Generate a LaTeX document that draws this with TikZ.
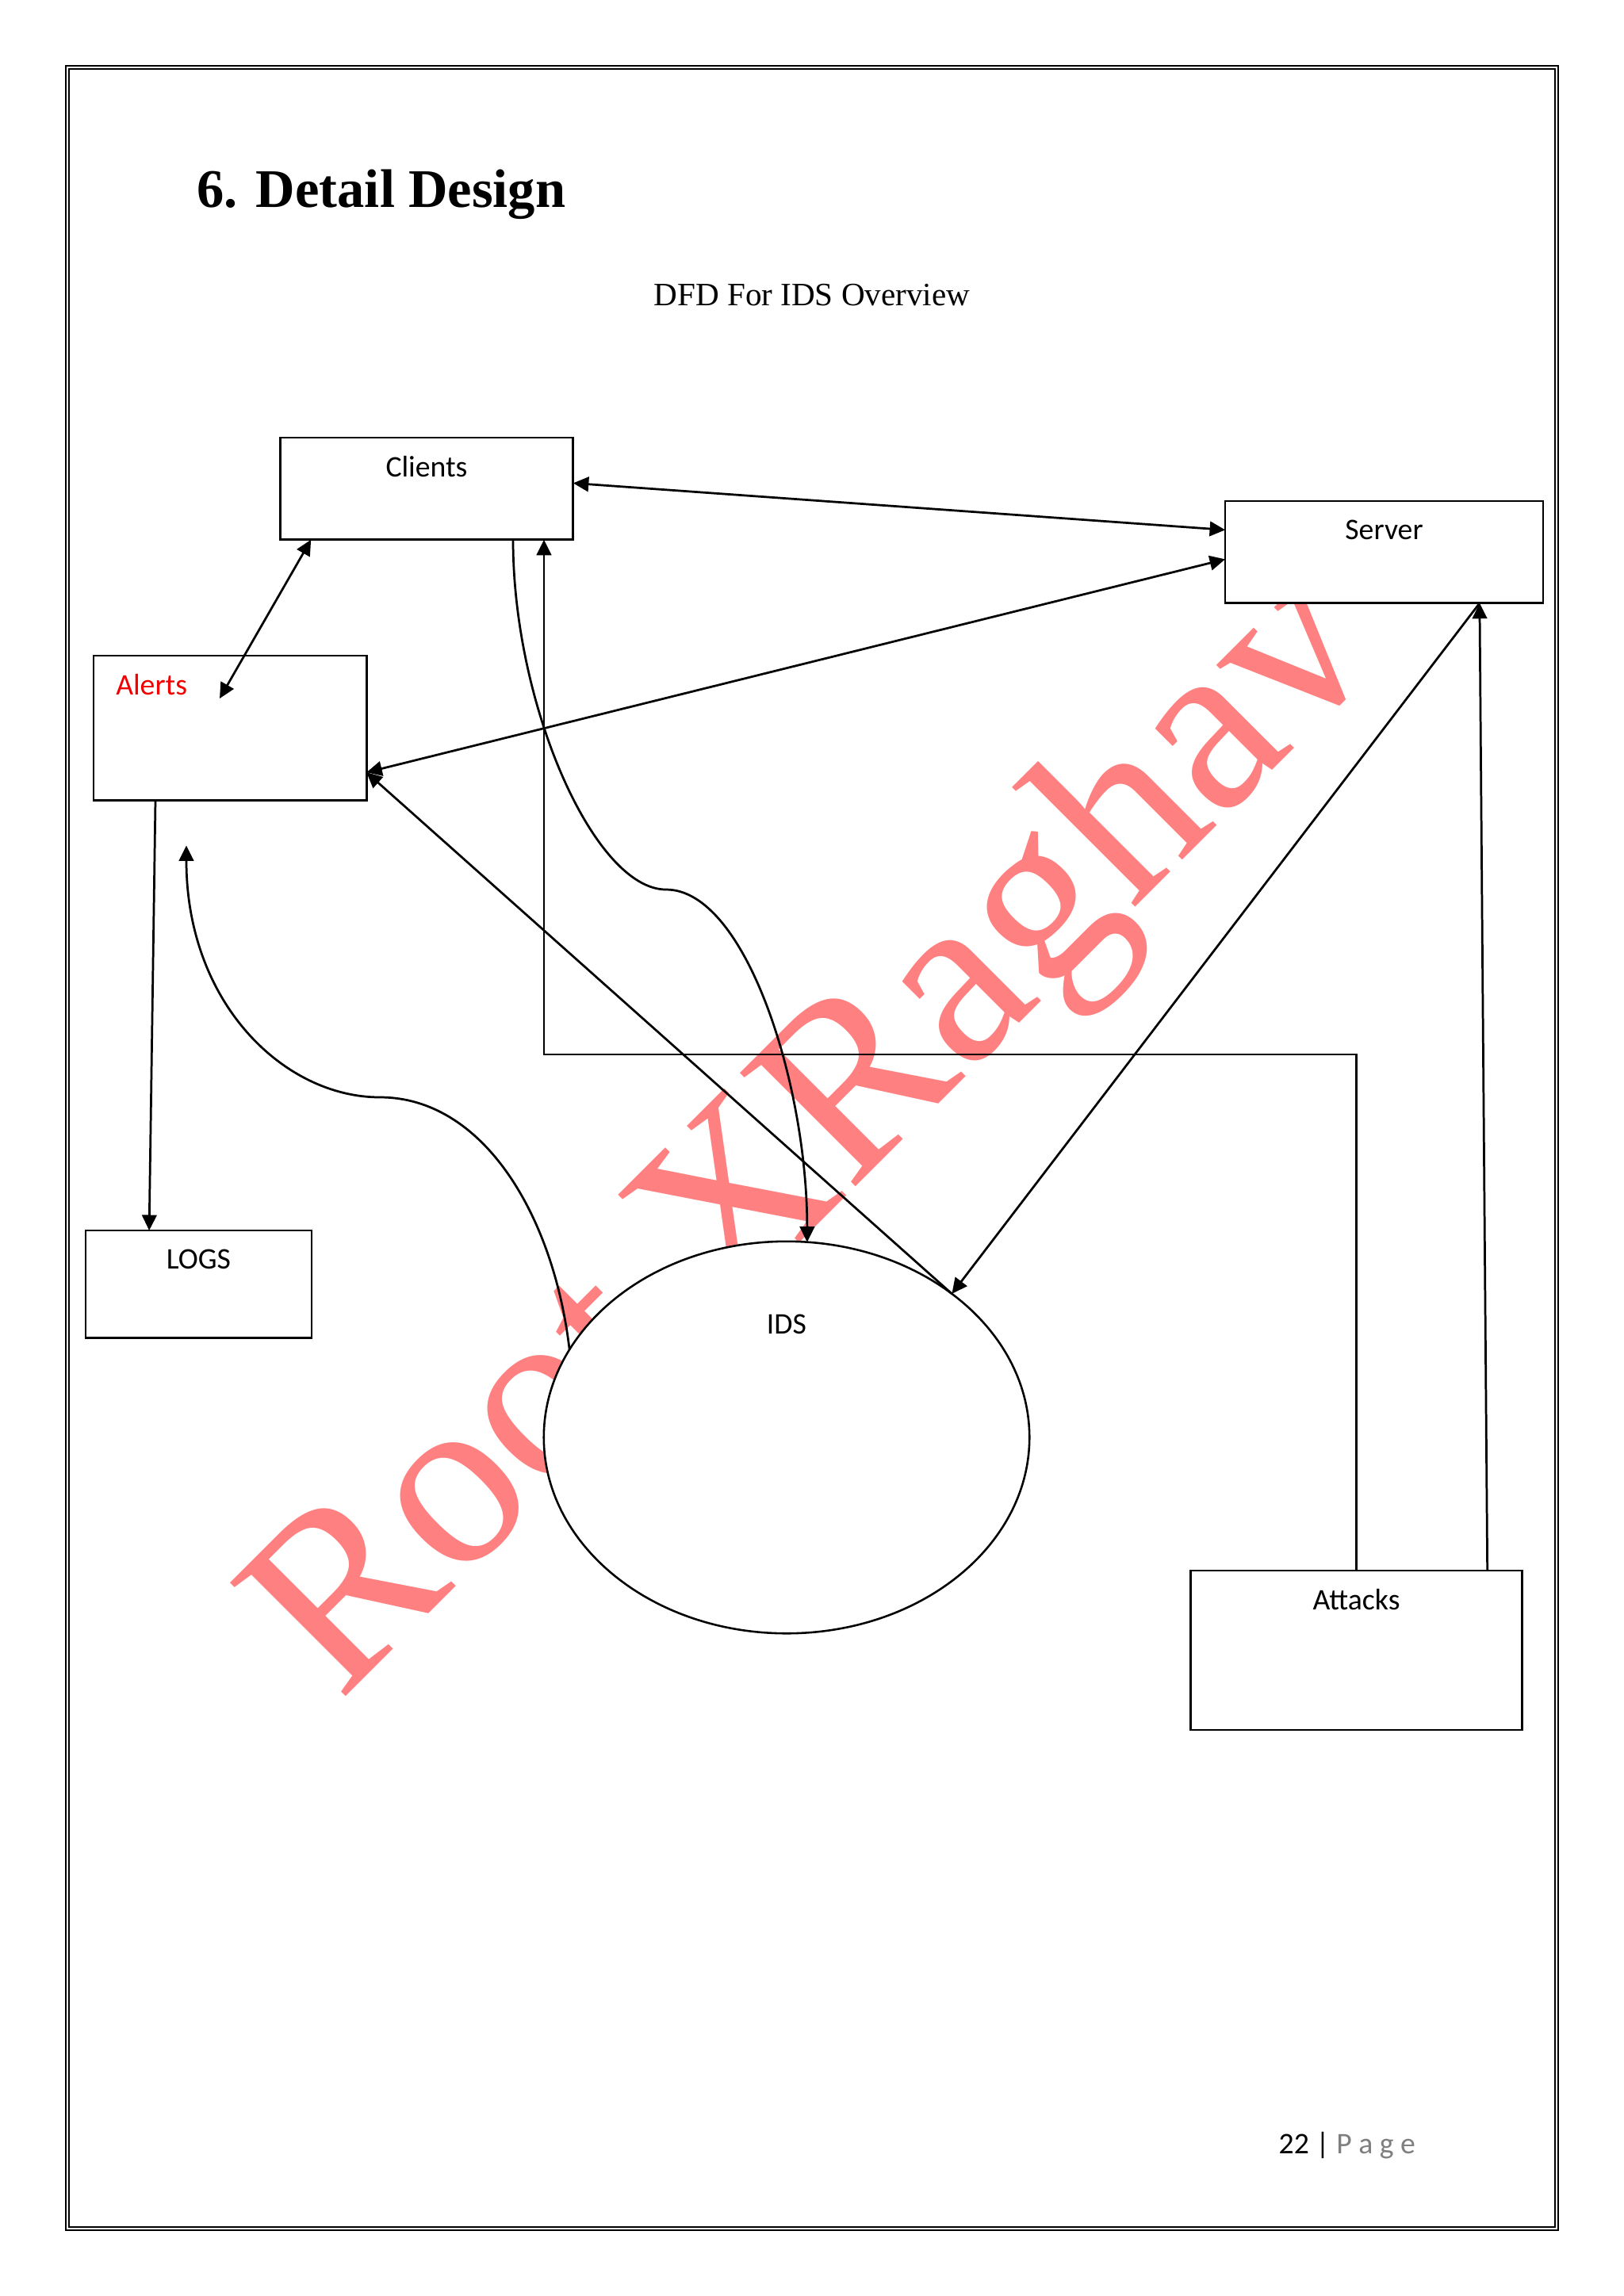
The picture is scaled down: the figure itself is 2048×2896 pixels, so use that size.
\documentclass[tikz,border=0pt]{standalone}
\usepackage{fontspec}
\setmainfont{Liberation Serif}
\newfontfamily\calibri{Carlito}
\usetikzlibrary{arrows.meta,shapes.geometric,calc}

\definecolor{stamp}{RGB}{255,128,128}
\definecolor{alertred}{RGB}{240,0,0}
\definecolor{pagegray}{RGB}{127,127,127}

\tikzset{
  box/.style={draw, fill=white, line width=0.8pt, inner sep=0pt, outer sep=0pt,
    font=\calibri\fontsize{11}{13}\selectfont},
  lbl/.style={font=\calibri\fontsize{11}{13}\selectfont, inner sep=0pt},
  link/.style={line width=0.8pt, -{Triangle[length=2mm,width=1.9mm]}},
  dlink/.style={line width=0.8pt, {Triangle[length=2mm,width=1.9mm]}-{Triangle[length=2mm,width=1.9mm]}},
}

\begin{document}
\begin{tikzpicture}[x=0.01025cm, y=-0.01025cm]
  %\draw[lightgray] (0,0) grid[step=100] (2048,2896);
  \path[use as bounding box, fill=white] (0,0) rectangle (2048,2896);
  \draw[double, line width=0.55pt, double distance=0.2mm] (85,85) rectangle (1963,2811);

  \node[anchor=base west, inner sep=0pt, font=\bfseries\fontsize{20}{24}\selectfont] (title) at (248,261) {6. Detail Design};
  \node[anchor=base, inner sep=0pt, font=\fontsize{12}{14}\selectfont] (subtitle) at (1024,385) {DFD For IDS Overview};

  % watermark
  \node[anchor=base west, rotate=45, inner sep=0pt, text=stamp, font=\fontsize{91}{96}\selectfont] (stamp) at (428,2148) {Root XRaghav};

  \node[box, anchor=north, minimum width=3.79cm, text height=0.51cm, text depth=0.81cm] (clients) at (538,552) {Clients};
  \node[box, anchor=north, minimum width=4.11cm, text height=0.50cm, text depth=0.82cm] (server) at (1745.5,632) {Server};
  \node[box, anchor=north west, text width=2.95cm, inner xsep=0.29cm, align=left, text height=0.51cm, text depth=1.36cm, text=alertred] (alerts) at (118,827) {Alerts};
  \node[box, anchor=north, minimum width=2.92cm, text height=0.50cm, text depth=0.89cm] (logs) at (250.5,1552) {LOGS};
  \node[box, anchor=north, minimum width=4.29cm, text height=0.51cm, text depth=1.55cm] (attacks) at (1710.5,1981) {Attacks};
  \node[ellipse, draw, fill=white, line width=0.75pt, inner sep=0pt, outer sep=0pt, minimum width=6.28cm, minimum height=5.07cm] (ids) at (992,1813) {};
  \node[lbl, anchor=base] (idslabel) at ($(ids.north)+(0,117)$) {IDS};

  \node[lbl, anchor=base west] (pagenum) at (1612,2716) {22 | \textcolor{pagegray}{P a g e}};

  \coordinate (bend) at (686,1330);
  \coordinate (alertsin) at ($(alerts.north west)+(159,54)$);
  \coordinate (alertsfoot) at ($(alerts.south west)+(117,57)$);
  \coordinate (serverfoot) at ($(server.south east)+(-80,0)$);
  \coordinate (dipa) at (840,1122);
  \coordinate (dipb) at (479,1384);

  \draw[dlink] ($(clients.east)+(0,-7)$) -- ($(server.west)+(0,-28)$);
  \draw[dlink] ($(server.west)+(0,9)$) -- ($(alerts.east)+(0,56)$);
  \draw[dlink] ($(clients.south west)+(39,0)$) -- (alertsin);
  \draw[link] ($(alerts.south west)+(78,0)$) -- ($(logs.north west)+(80,0)$);
  \draw[link] (ids.41.6) -- ($(alerts.east)+(0,56)$);
  \draw[link] (serverfoot) -- (ids.41.6);
  \draw[link] ($(attacks.north east)+(-44,0)$) -- (serverfoot);
  \draw[link] (attacks.north) |- (bend) -- (bend |- clients.south);
  \draw[link] ($(clients.south)+(109,0)$) .. controls +(0,210) and +(-90,0) .. (dipa)
    .. controls +(100,0) and +(0,-200) .. (ids.84);
  \draw[link] (ids.158) .. controls +(-20,-170) and +(130,0) .. (dipb)
    .. controls +(-120,0) and +(0,200) .. (alertsfoot);
\end{tikzpicture}
\end{document}
